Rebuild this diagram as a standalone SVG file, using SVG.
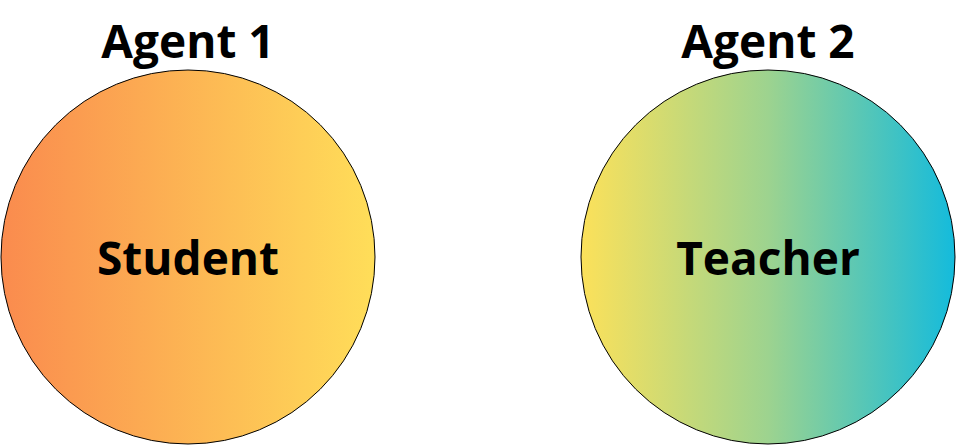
<svg xmlns="http://www.w3.org/2000/svg" width="957" height="448" viewBox="0 0 957 448">
<style>
.c{stroke:#000;stroke-width:1}
.t{font-family:"Open Sans","Liberation Sans",sans-serif;font-weight:bold;fill:#000;text-anchor:middle}
</style>
<defs>
<linearGradient id="g1" x1="0" x2="1" y1="0" y2="0"><stop offset="0" stop-color="#FA8B4E"/><stop offset="1" stop-color="#FFDE59"/></linearGradient>
<linearGradient id="g2" x1="0" x2="1" y1="0" y2="0"><stop offset="0" stop-color="#FCE15A"/><stop offset="0.5" stop-color="#9DD38F"/><stop offset="1" stop-color="#14BBDC"/></linearGradient>
</defs>
<rect width="957" height="448" fill="#fff"/>
<g id="agent1">
<text class="t" x="188" y="58" font-size="46">Agent 1</text>
<circle class="c" cx="188" cy="257" r="187" fill="url(#g1)"/>
<text class="t" x="188" y="275" font-size="46">Student</text>
</g>
<g id="agent2">
<text class="t" x="768" y="58" font-size="46">Agent 2</text>
<circle class="c" cx="768" cy="257" r="187" fill="url(#g2)"/>
<text class="t" x="768" y="275" font-size="46">Teacher</text>
</g>
<g id="connectors"/>
</svg>
